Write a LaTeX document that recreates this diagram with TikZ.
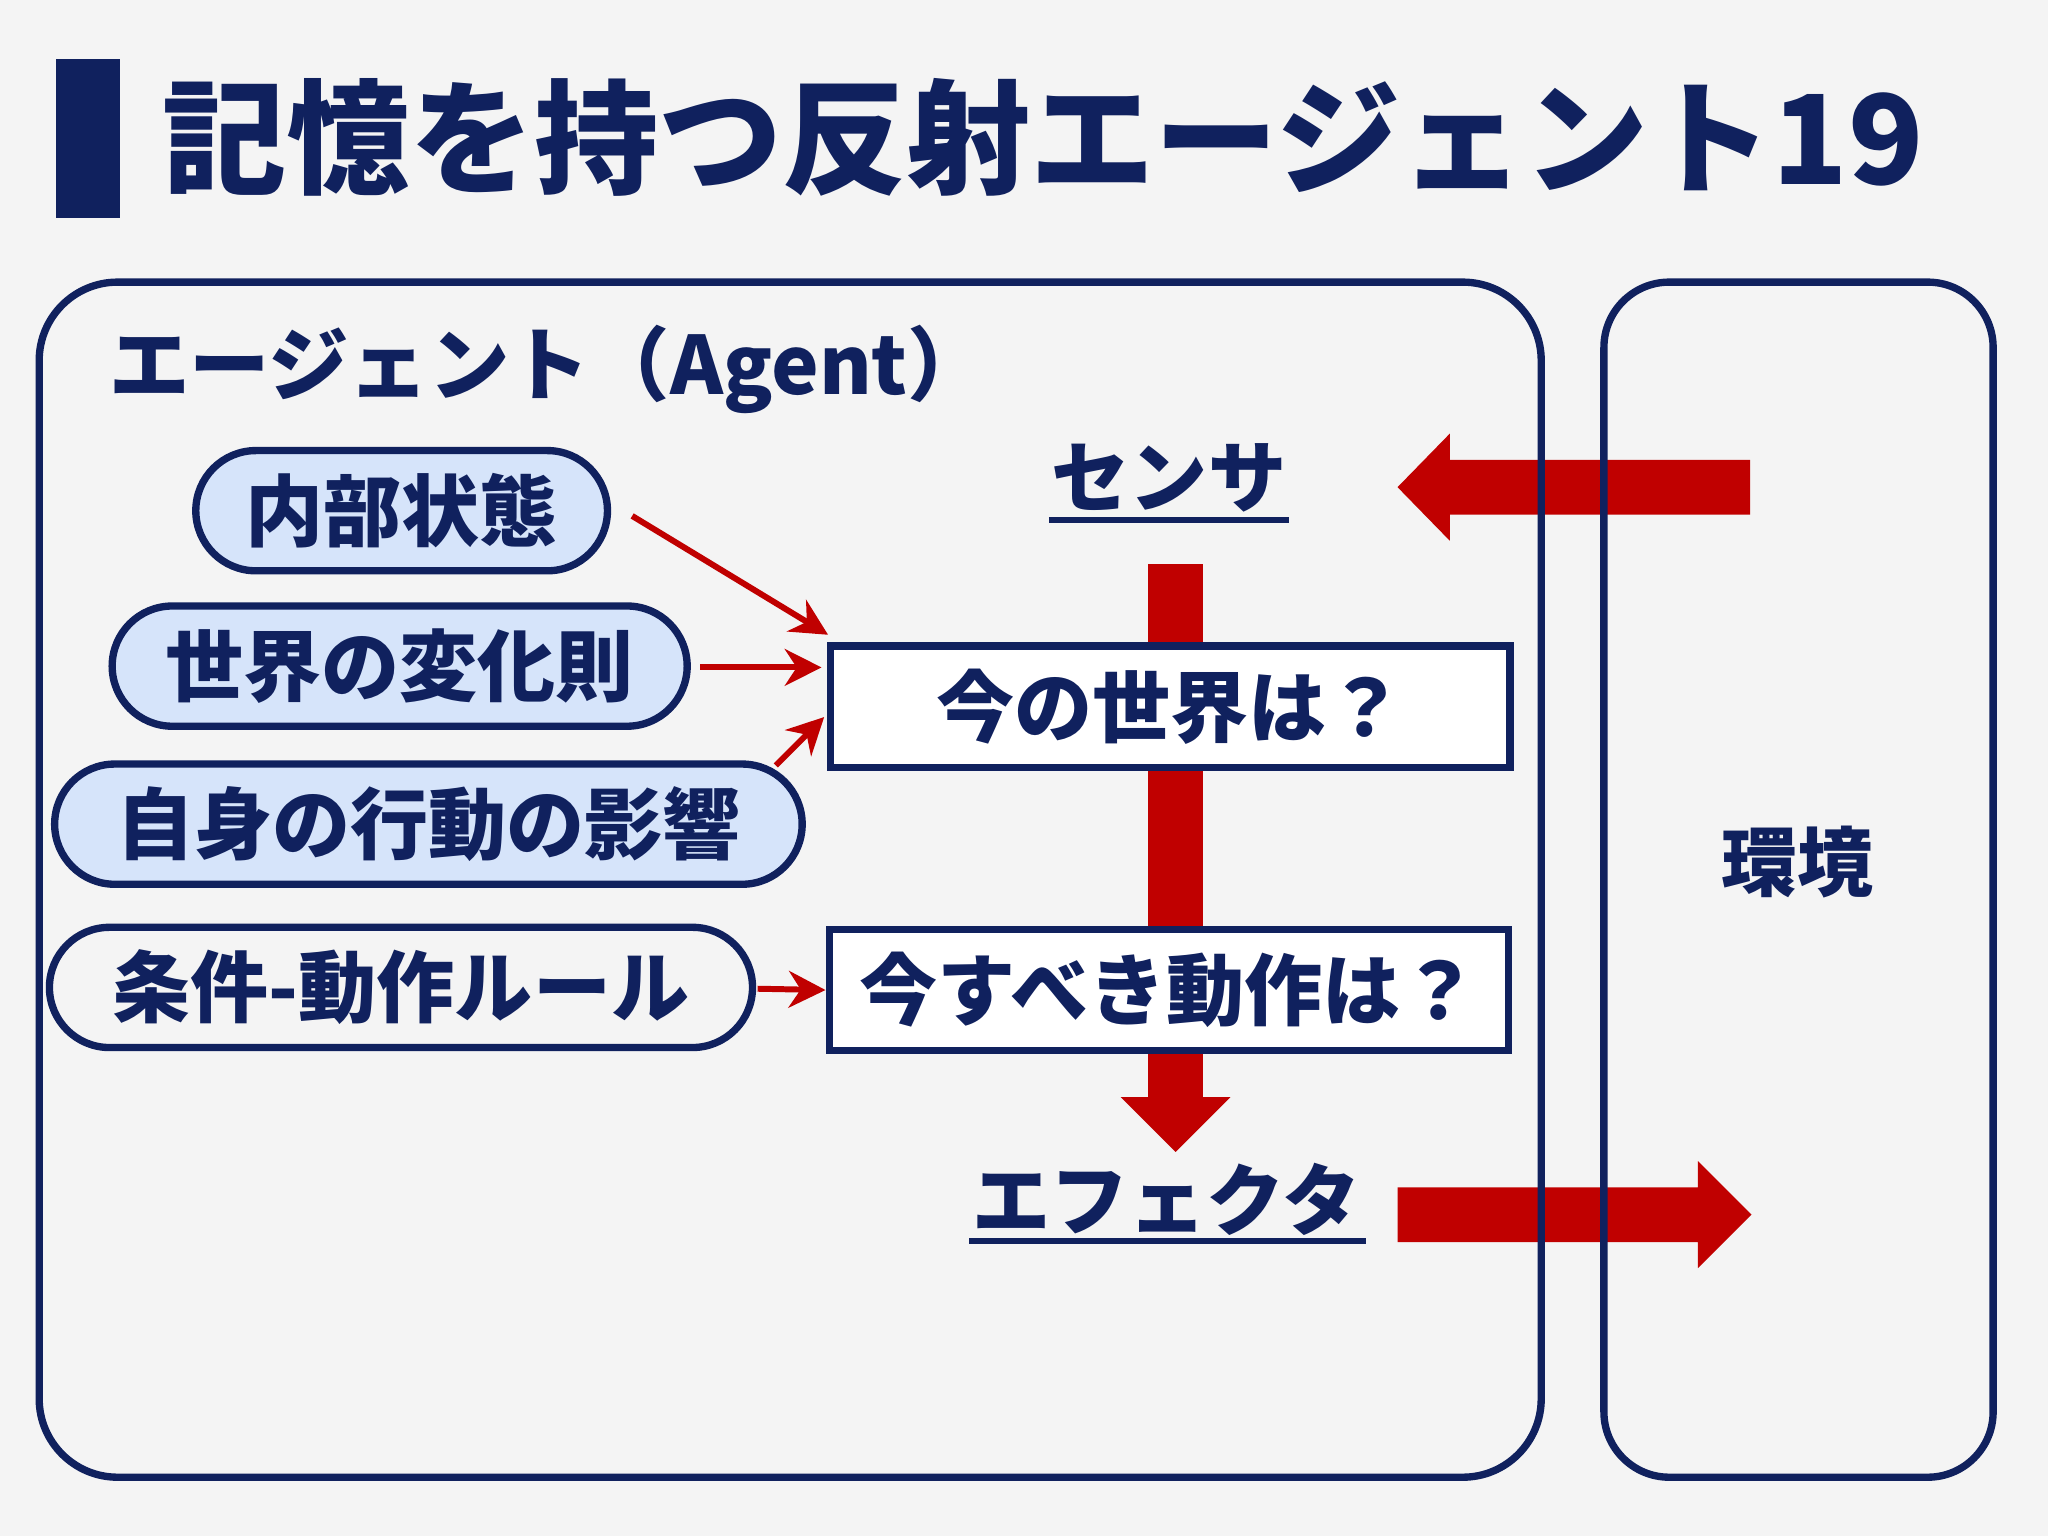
\documentclass[tikz,border=0pt]{standalone}
\usepackage{fontspec}
\setmainfont{Noto Sans CJK JP}
\usetikzlibrary{arrows.meta}
\begin{document}
\begin{tikzpicture}[x=0.01cm,y=-0.01cm,
  navy/.style={draw=nv,line width=1.6pt},
  pill/.style={navy,rounded corners=0.46cm,minimum height=0.92cm,font=\fontsize{17}{17}\selectfont\bfseries,text=nv,inner sep=0pt},
  qbox/.style={navy,fill=white,minimum height=0.93cm,minimum width=5.2cm,font=\fontsize{17}{17}\selectfont\bfseries,text=nv},
  thin/.style={draw=rd,line width=1.3pt,-{Stealth[length=8pt,width=8pt]}},
  lbl/.style={text=nv,font=\fontsize{17}{17}\selectfont\bfseries}]
\definecolor{nv}{HTML}{10215E}
\definecolor{rd}{HTML}{C00000}
\definecolor{lb}{HTML}{D6E4FA}
\definecolor{bg}{HTML}{F4F4F4}
\fill[bg] (0,0) rectangle (1568,1176);
\useasboundingbox (0,0) rectangle (1568,1176);
% title
\fill[nv] (43,45) rectangle (92,167);
\node[anchor=west,text=nv,font=\fontsize{27}{27}\selectfont\bfseries,inner sep=0pt] (title) at (124,105) {記憶を持つ反射エージェント19};
% red arrows
\fill[rd] (879,432) rectangle (921,840);
\fill[rd] (858,840) -- (942,840) -- (900,882) -- cycle;
\fill[rd] (1340,352) -- (1110,352) -- (1110,332) -- (1070,373) -- (1110,414) -- (1110,394) -- (1340,394) -- cycle;
\fill[rd] (1070,909) -- (1300,909) -- (1300,889) -- (1341,930) -- (1300,971) -- (1300,951) -- (1070,951) -- cycle;
% boxes
\draw[navy,rounded corners=0.6cm] (30,216) rectangle (1180,1131);
\draw[navy,rounded corners=0.5cm] (1228,216) rectangle (1526,1131);
\node[anchor=west,text=nv,font=\fontsize{17.5}{17.5}\selectfont\bfseries,inner sep=0pt] (agent) at (83,283) {エージェント（Agent）};
\node[text=nv,font=\fontsize{16.5}{16.5}\selectfont\bfseries] (env) at (1376,660) {環境};
\node[pill,fill=lb,minimum width=3.15cm] (p1) at (307.5,391) {内部状態};
\node[pill,fill=lb,minimum width=4.4cm] (p2) at (306,510) {世界の変化則};
\node[pill,fill=lb,minimum width=5.72cm] (p3) at (328,631) {自身の行動の影響};
\node[pill,fill=bg,minimum width=5.38cm] (p4) at (307,756) {条件-動作ルール};
\node[qbox] (q1) at (896,541) {今の世界は？};
\node[qbox] (q2) at (895,758) {今すべき動作は？};
\node[lbl] (sensor) at (895,366) {センサ};
\draw[nv,line width=1.4pt] (803,398) -- (987,398);
\node[lbl] (eff) at (893,918) {エフェクタ};
\draw[nv,line width=1.4pt] (742,950) -- (1046,950);
% thin arrows
\coordinate (a1) at (484,395);
\coordinate (b1) at (634,486);
\draw[thin] (a1) -- (b1);
\coordinate (a2) at (536,511);
\coordinate (b2) at (629,511);
\draw[thin] (a2) -- (b2);
\coordinate (a3) at (594,586);
\coordinate (b3) at (631,549);
\draw[thin] (a3) -- (b3);
\coordinate (a4) at (580,757);
\draw[thin] (a4) -- (q2.west);
\end{tikzpicture}
\end{document}
